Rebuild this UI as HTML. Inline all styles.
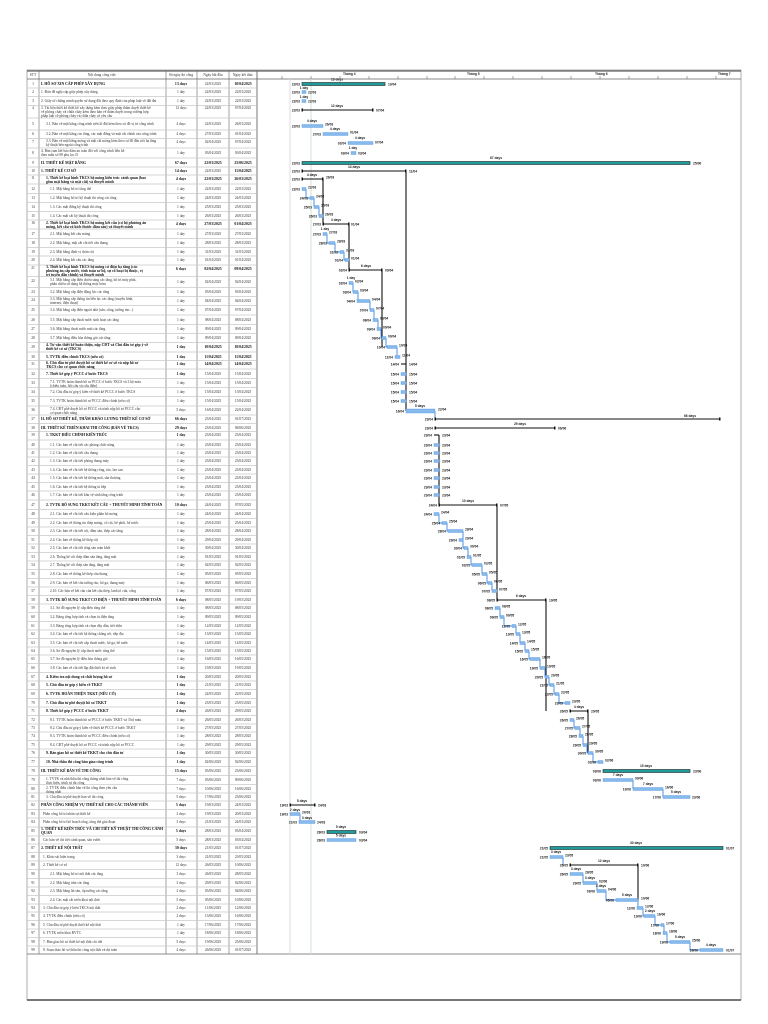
<!DOCTYPE html>
<html><head><meta charset="utf-8"><style>
html,body{margin:0;padding:0;background:#fff;}
svg{display:block;font-family:"Liberation Serif","Noto Serif CJK SC",serif;}
.t{font-size:3.6px;fill:#333}
.b{font-size:3.8px;fill:#111;font-weight:bold}
.c{text-anchor:middle}
.g{font-size:3.3px;fill:#222;font-family:"Liberation Sans",sans-serif;font-weight:bold}
.e{text-anchor:end}
</style></head><body>
<svg width="768" height="1024" viewBox="0 0 768 1024" xmlns="http://www.w3.org/2000/svg">
<!-- frame -->
<rect x="27" y="70" width="714" height="930" fill="none" stroke="#999" stroke-width="0.8"/>
<line x1="27" y1="1000" x2="741" y2="1000" stroke="#777" stroke-width="2"/>
<line x1="27" y1="71" x2="741" y2="71" stroke="#666" stroke-width="1.2"/>
<line x1="27" y1="79" x2="741" y2="79" stroke="#888" stroke-width="1"/>
<line x1="27" y1="954" x2="741" y2="954" stroke="#888" stroke-width="1"/>
<!-- columns -->
<g stroke="#666" stroke-width="0.6">
<line x1="39" y1="71" x2="39" y2="954"/><line x1="166" y1="71" x2="166" y2="954"/>
<line x1="197" y1="71" x2="197" y2="954"/><line x1="229" y1="71" x2="229" y2="954"/>
<line x1="257" y1="71" x2="257" y2="954" stroke-width="0.9"/>
</g>
<line x1="290" y1="79" x2="290" y2="954" stroke="#ddd" stroke-width="1"/>
<line x1="311" y1="79" x2="311" y2="954" stroke="#cfe3cf" stroke-width="1"/>
<!-- header -->
<text class="t c" x="33" y="76">STT</text>
<text class="t c" x="102" y="76">Nội dung công việc</text>
<text class="t c" x="181" y="76">Số ngày thi công</text>
<text class="t c" x="213" y="76">Ngày bắt đầu</text>
<text class="t c" x="243" y="76">Ngày kết thúc</text>
<g stroke="#555" stroke-width="0.5">
<line x1="282" y1="76" x2="282" y2="79"/><line x1="311" y1="76" x2="311" y2="79"/><line x1="340" y1="76" x2="340" y2="79"/><line x1="369" y1="76" x2="369" y2="79"/><line x1="398" y1="76" x2="398" y2="79"/><line x1="427" y1="76" x2="427" y2="79"/><line x1="455" y1="76" x2="455" y2="79"/><line x1="484" y1="76" x2="484" y2="79"/><line x1="513" y1="76" x2="513" y2="79"/><line x1="542" y1="76" x2="542" y2="79"/><line x1="571" y1="76" x2="571" y2="79"/><line x1="600" y1="76" x2="600" y2="79"/><line x1="629" y1="76" x2="629" y2="79"/><line x1="658" y1="76" x2="658" y2="79"/><line x1="687" y1="76" x2="687" y2="79"/><line x1="716" y1="76" x2="716" y2="79"/>
</g>
<text class="g" x="343" y="75">Tháng 4</text><text class="g" x="467" y="75">Tháng 5</text><text class="g" x="595" y="75">Tháng 6</text><text class="g" x="718" y="75">Tháng 7</text>

<!-- row separators -->
<g stroke="#c8c8c8" stroke-width="0.7">
<line x1="27" y1="88" x2="257" y2="88"/><line x1="27" y1="96.5" x2="257" y2="96.5"/><line x1="27" y1="105.5" x2="257" y2="105.5"/><line x1="27" y1="118" x2="257" y2="118"/><line x1="27" y1="130" x2="257" y2="130"/><line x1="27" y1="138.5" x2="257" y2="138.5"/><line x1="27" y1="148" x2="257" y2="148"/><line x1="27" y1="158" x2="257" y2="158"/><line x1="27" y1="167" x2="257" y2="167"/><line x1="27" y1="175" x2="257" y2="175"/><line x1="27" y1="184" x2="257" y2="184"/><line x1="27" y1="193.5" x2="257" y2="193.5"/><line x1="27" y1="202.5" x2="257" y2="202.5"/><line x1="27" y1="211.5" x2="257" y2="211.5"/><line x1="27" y1="220" x2="257" y2="220"/><line x1="27" y1="229" x2="257" y2="229"/><line x1="27" y1="238.5" x2="257" y2="238.5"/><line x1="27" y1="247.5" x2="257" y2="247.5"/><line x1="27" y1="256" x2="257" y2="256"/><line x1="27" y1="265" x2="257" y2="265"/><line x1="27" y1="276.5" x2="257" y2="276.5"/><line x1="27" y1="287.5" x2="257" y2="287.5"/><line x1="27" y1="296.5" x2="257" y2="296.5"/><line x1="27" y1="305.5" x2="257" y2="305.5"/><line x1="27" y1="315" x2="257" y2="315"/><line x1="27" y1="324.5" x2="257" y2="324.5"/><line x1="27" y1="333.5" x2="257" y2="333.5"/><line x1="27" y1="342.5" x2="257" y2="342.5"/><line x1="27" y1="352" x2="257" y2="352"/><line x1="27" y1="360.5" x2="257" y2="360.5"/><line x1="27" y1="369" x2="257" y2="369"/><line x1="27" y1="378.5" x2="257" y2="378.5"/><line x1="27" y1="387.5" x2="257" y2="387.5"/><line x1="27" y1="396.5" x2="257" y2="396.5"/><line x1="27" y1="406" x2="257" y2="406"/><line x1="27" y1="415" x2="257" y2="415"/><line x1="27" y1="423.5" x2="257" y2="423.5"/><line x1="27" y1="431.5" x2="257" y2="431.5"/><line x1="27" y1="440" x2="257" y2="440"/><line x1="27" y1="449" x2="257" y2="449"/><line x1="27" y1="457" x2="257" y2="457"/><line x1="27" y1="465.5" x2="257" y2="465.5"/><line x1="27" y1="474" x2="257" y2="474"/><line x1="27" y1="482.5" x2="257" y2="482.5"/><line x1="27" y1="491" x2="257" y2="491"/><line x1="27" y1="500" x2="257" y2="500"/><line x1="27" y1="509.5" x2="257" y2="509.5"/><line x1="27" y1="518.5" x2="257" y2="518.5"/><line x1="27" y1="527" x2="257" y2="527"/><line x1="27" y1="535.5" x2="257" y2="535.5"/><line x1="27" y1="544" x2="257" y2="544"/><line x1="27" y1="552.5" x2="257" y2="552.5"/><line x1="27" y1="561" x2="257" y2="561"/><line x1="27" y1="569.5" x2="257" y2="569.5"/><line x1="27" y1="578.5" x2="257" y2="578.5"/><line x1="27" y1="587" x2="257" y2="587"/><line x1="27" y1="595.5" x2="257" y2="595.5"/><line x1="27" y1="604" x2="257" y2="604"/><line x1="27" y1="612.5" x2="257" y2="612.5"/><line x1="27" y1="621.5" x2="257" y2="621.5"/><line x1="27" y1="630" x2="257" y2="630"/><line x1="27" y1="638.5" x2="257" y2="638.5"/><line x1="27" y1="647" x2="257" y2="647"/><line x1="27" y1="655" x2="257" y2="655"/><line x1="27" y1="663.5" x2="257" y2="663.5"/><line x1="27" y1="672.5" x2="257" y2="672.5"/><line x1="27" y1="681" x2="257" y2="681"/><line x1="27" y1="689.5" x2="257" y2="689.5"/><line x1="27" y1="698.5" x2="257" y2="698.5"/><line x1="27" y1="707" x2="257" y2="707"/><line x1="27" y1="715.5" x2="257" y2="715.5"/><line x1="27" y1="724" x2="257" y2="724"/><line x1="27" y1="732" x2="257" y2="732"/><line x1="27" y1="740.5" x2="257" y2="740.5"/><line x1="27" y1="749" x2="257" y2="749"/><line x1="27" y1="757.5" x2="257" y2="757.5"/><line x1="27" y1="766.5" x2="257" y2="766.5"/><line x1="27" y1="775.5" x2="257" y2="775.5"/><line x1="27" y1="784.5" x2="257" y2="784.5"/><line x1="27" y1="793" x2="257" y2="793"/><line x1="27" y1="801" x2="257" y2="801"/><line x1="27" y1="809.5" x2="257" y2="809.5"/><line x1="27" y1="818" x2="257" y2="818"/><line x1="27" y1="827" x2="257" y2="827"/><line x1="27" y1="836" x2="257" y2="836"/><line x1="27" y1="844" x2="257" y2="844"/><line x1="27" y1="852.5" x2="257" y2="852.5"/><line x1="27" y1="861" x2="257" y2="861"/><line x1="27" y1="869.5" x2="257" y2="869.5"/><line x1="27" y1="878.5" x2="257" y2="878.5"/><line x1="27" y1="887" x2="257" y2="887"/><line x1="27" y1="895.5" x2="257" y2="895.5"/><line x1="27" y1="904" x2="257" y2="904"/><line x1="27" y1="912" x2="257" y2="912"/><line x1="27" y1="920.5" x2="257" y2="920.5"/><line x1="27" y1="929" x2="257" y2="929"/><line x1="27" y1="937.5" x2="257" y2="937.5"/><line x1="27" y1="946" x2="257" y2="946"/>
</g>

<!-- table text -->
<g>
<text class="t c" x="33" y="85">1</text><text class="b" x="41" y="85">I. HỒ SƠ XIN CẤP PHÉP XÂY DỰNG</text><text class="b c" x="181" y="85">13 days</text><text class="t c" x="213" y="85">22/03/2025</text><text class="b c" x="243" y="85">10/04/2025</text>
<text class="t c" x="33" y="93">2</text><text class="t" x="41" y="93">1. Đơn đề nghị cấp giấy phép xây dựng</text><text class="t c" x="181" y="93">1 day</text><text class="t c" x="213" y="93">22/03/2025</text><text class="t c" x="243" y="93">22/03/2025</text>
<text class="t c" x="33" y="102">3</text><text class="t" x="41" y="102">2. Giấy tờ chứng minh quyền sử dụng đất theo quy định của pháp luật về đất đai</text><text class="t c" x="181" y="102">1 day</text><text class="t c" x="213" y="102">22/03/2025</text><text class="t c" x="243" y="102">22/03/2025</text>
<text class="t c" x="33" y="109">4</text><text class="t" x="41" y="109">3. Tài liệu thiết kế thiết kế xây dựng kèm theo giấy phép thẩm duyệt thiết kế</text><text class="t" x="41" y="113">về phòng cháy và chữa cháy kèm theo bản vẽ thẩm duyệt trong trường hợp</text><text class="t" x="41" y="117">pháp luật về phòng cháy và chữa cháy có yêu cầu</text><text class="t c" x="181" y="109">12 days</text><text class="t c" x="213" y="109">22/03/2025</text><text class="t c" x="243" y="109">07/04/2025</text>
<text class="t c" x="33" y="125">5</text><text class="t" x="46" y="125">3.1. Bản vẽ mặt bằng công trình trên lô đất kèm theo sơ đồ vị trí công trình</text><text class="t c" x="181" y="125">4 days</text><text class="t c" x="213" y="125">22/03/2025</text><text class="t c" x="243" y="125">26/03/2025</text>
<text class="t c" x="33" y="135">6</text><text class="t" x="46" y="135">3.2. Bản vẽ mặt bằng các tầng, các mặt đứng và mặt cắt chính của công trình</text><text class="t c" x="181" y="135">4 days</text><text class="t c" x="213" y="135">27/03/2025</text><text class="t c" x="243" y="135">01/04/2025</text>
<text class="t c" x="33" y="143">7</text><text class="t" x="46" y="142">3.3. Bản vẽ mặt bằng móng và mặt cắt móng kèm theo sơ đồ đấu nối hạ tầng</text><text class="t" x="46" y="146">kỹ thuật bên ngoài công trình</text><text class="t c" x="181" y="143">4 days</text><text class="t c" x="213" y="143">02/04/2025</text><text class="t c" x="243" y="143">07/04/2025</text>
<text class="t c" x="33" y="154">8</text><text class="t" x="41" y="152">4. Bản cam kết bảo đảm an toàn đối với công trình liền kề</text><text class="t" x="41" y="156">theo mẫu số 08 phụ lục II</text><text class="t c" x="181" y="154">1 day</text><text class="t c" x="213" y="154">03/04/2025</text><text class="t c" x="243" y="154">03/04/2025</text>
<text class="t c" x="33" y="164">9</text><text class="b" x="41" y="164">II. THIẾT KẾ MẶT BẰNG</text><text class="b c" x="181" y="164">67 days</text><text class="b c" x="213" y="164">22/03/2025</text><text class="b c" x="243" y="164">25/06/2025</text>
<text class="t c" x="33" y="172">10</text><text class="b" x="41" y="172">1. THIẾT KẾ CƠ SỞ</text><text class="b c" x="181" y="172">14 days</text><text class="t c" x="213" y="172">22/03/2025</text><text class="b c" x="243" y="172">11/04/2025</text>
<text class="t c" x="33" y="179">11</text><text class="b" x="46" y="179">1. Thiết kế loại hình TKCS hệ móng kiến trúc cảnh quan (bao</text><text class="b" x="46" y="183">gồm mặt bằng và mặt cắt) và thuyết minh</text><text class="b c" x="181" y="180">4 days</text><text class="b c" x="213" y="180">22/03/2025</text><text class="b c" x="243" y="180">26/03/2025</text>
<text class="t c" x="33" y="190">12</text><text class="t" x="50" y="190">1.1. Mặt bằng bố trí tổng thể</text><text class="t c" x="181" y="190">1 day</text><text class="t c" x="213" y="190">22/03/2025</text><text class="t c" x="243" y="190">22/03/2025</text>
<text class="t c" x="33" y="199">13</text><text class="t" x="50" y="199">1.2. Mặt bằng bố trí kỹ thuật thi công các tầng</text><text class="t c" x="181" y="199">1 day</text><text class="t c" x="213" y="199">24/03/2025</text><text class="t c" x="243" y="199">24/03/2025</text>
<text class="t c" x="33" y="208">14</text><text class="t" x="50" y="208">1.3. Các mặt đứng kỹ thuật thi công</text><text class="t c" x="181" y="208">1 day</text><text class="t c" x="213" y="208">25/03/2025</text><text class="t c" x="243" y="208">25/03/2025</text>
<text class="t c" x="33" y="217">15</text><text class="t" x="50" y="217">1.4. Các mặt cắt kỹ thuật thi công</text><text class="t c" x="181" y="217">1 day</text><text class="t c" x="213" y="217">26/03/2025</text><text class="t c" x="243" y="217">26/03/2025</text>
<text class="t c" x="33" y="224">16</text><text class="b" x="46" y="224">2. Thiết kế loại hình TKCS hệ móng kết cấu (cơ hệ phương án</text><text class="b" x="46" y="228">móng, kết cấu và kích thước dầm sàn) và thuyết minh</text><text class="b c" x="181" y="225">4 days</text><text class="b c" x="213" y="225">27/03/2025</text><text class="b c" x="243" y="225">01/04/2025</text>
<text class="t c" x="33" y="235">17</text><text class="t" x="50" y="235">2.1. Mặt bằng kết cấu móng</text><text class="t c" x="181" y="235">1 day</text><text class="t c" x="213" y="235">27/03/2025</text><text class="t c" x="243" y="235">27/03/2025</text>
<text class="t c" x="33" y="244">18</text><text class="t" x="50" y="244">2.2. Mặt bằng, mặt cắt chi tiết cầu thang</text><text class="t c" x="181" y="244">1 day</text><text class="t c" x="213" y="244">28/03/2025</text><text class="t c" x="243" y="244">28/03/2025</text>
<text class="t c" x="33" y="253">19</text><text class="t" x="50" y="253">2.3. Mặt bằng định vị chân cột</text><text class="t c" x="181" y="253">1 day</text><text class="t c" x="213" y="253">31/03/2025</text><text class="t c" x="243" y="253">31/03/2025</text>
<text class="t c" x="33" y="261">20</text><text class="t" x="50" y="261">2.4. Mặt bằng kết cấu các tầng</text><text class="t c" x="181" y="261">1 day</text><text class="t c" x="213" y="261">01/04/2025</text><text class="t c" x="243" y="261">01/04/2025</text>
<text class="t c" x="33" y="269">21</text><text class="b" x="46" y="268">3. Thiết kế loại hình TKCS hệ móng cơ điện hạ tầng (các</text><text class="b" x="46" y="272">phương án cấp nước, tính toán sơ bộ, sự cố hoạt bị thuộc, vị</text><text class="b" x="46" y="276">trí tuyến dẫn chính) và thuyết minh</text><text class="b c" x="181" y="270">6 days</text><text class="b c" x="213" y="270">02/04/2025</text><text class="b c" x="243" y="270">09/04/2025</text>
<text class="t c" x="33" y="282">22</text><text class="t" x="50" y="281">3.1. Mặt bằng cấp điện chiếu sáng các tầng, bố trí máy phát,</text><text class="t" x="50" y="285">phân chiều sử dụng hệ thống máy bơm</text><text class="t c" x="181" y="283">1 day</text><text class="t c" x="213" y="283">02/04/2025</text><text class="t c" x="243" y="283">02/04/2025</text>
<text class="t c" x="33" y="293">23</text><text class="t" x="50" y="293">3.2. Mặt bằng cấp điện động lực các tầng</text><text class="t c" x="181" y="293">1 day</text><text class="t c" x="213" y="293">03/04/2025</text><text class="t c" x="243" y="293">03/04/2025</text>
<text class="t c" x="33" y="301">24</text><text class="t" x="50" y="300">3.3. Mặt bằng cấp thông tin liên lạc các tầng (truyền hình,</text><text class="t" x="50" y="304">internet, điện thoại)</text><text class="t c" x="181" y="302">1 day</text><text class="t c" x="213" y="302">04/04/2025</text><text class="t c" x="243" y="302">04/04/2025</text>
<text class="t c" x="33" y="311">25</text><text class="t" x="50" y="311">3.4. Mặt bằng cấp điện ngoài nhà (sân, cổng, tường rào...)</text><text class="t c" x="181" y="311">1 day</text><text class="t c" x="213" y="311">07/04/2025</text><text class="t c" x="243" y="311">07/04/2025</text>
<text class="t c" x="33" y="321">26</text><text class="t" x="50" y="321">3.5. Mặt bằng cấp thoát nước sinh hoạt các tầng</text><text class="t c" x="181" y="321">1 day</text><text class="t c" x="213" y="321">08/04/2025</text><text class="t c" x="243" y="321">08/04/2025</text>
<text class="t c" x="33" y="330">27</text><text class="t" x="50" y="330">3.6. Mặt bằng thoát nước mái các tầng</text><text class="t c" x="181" y="330">1 day</text><text class="t c" x="213" y="330">09/04/2025</text><text class="t c" x="243" y="330">09/04/2025</text>
<text class="t c" x="33" y="339">28</text><text class="t" x="50" y="339">3.7. Mặt bằng điều hòa thông gió các tầng</text><text class="t c" x="181" y="339">1 day</text><text class="t c" x="213" y="339">09/04/2025</text><text class="t c" x="243" y="339">09/04/2025</text>
<text class="t c" x="33" y="348">29</text><text class="b" x="46" y="346">4. Tư vấn thiết kế hoàn thiện, nộp CĐT và Chủ đầu tư góp ý về</text><text class="b" x="46" y="350">thiết kế cơ sở (TKCS)</text><text class="b c" x="181" y="348">1 day</text><text class="b c" x="213" y="348">10/04/2025</text><text class="b c" x="243" y="348">10/04/2025</text>
<text class="t c" x="33" y="358">30</text><text class="b" x="46" y="358">5. TVTK điều chỉnh TKCS (nếu có)</text><text class="b c" x="181" y="358">1 day</text><text class="b c" x="213" y="358">11/04/2025</text><text class="b c" x="243" y="358">11/04/2025</text>
<text class="t c" x="33" y="365">31</text><text class="b" x="46" y="364">6. Chủ đầu tư phê duyệt hồ sơ thiết kế cơ sở và nộp hồ sơ</text><text class="b" x="46" y="368">TKCS cho cơ quan chức năng</text><text class="b c" x="181" y="365">1 day</text><text class="b c" x="213" y="365">14/04/2025</text><text class="b c" x="243" y="365">14/04/2025</text>
<text class="t c" x="33" y="375">32</text><text class="b" x="46" y="375">7. Thiết kế góp ý PCCC ở bước TKCS</text><text class="b c" x="181" y="375">1 day</text><text class="t c" x="213" y="375">15/04/2025</text><text class="t c" x="243" y="375">15/04/2025</text>
<text class="t c" x="33" y="384">33</text><text class="t" x="50" y="383">7.1. TVTK hoàn thành hồ sơ PCCC ở bước TKCS và 3 bộ màu</text><text class="t" x="50" y="387">(chiều toàn, hồi cấu và cứu điện)</text><text class="t c" x="181" y="384">1 day</text><text class="t c" x="213" y="384">15/04/2025</text><text class="t c" x="243" y="384">15/04/2025</text>
<text class="t c" x="33" y="393">34</text><text class="t" x="50" y="393">7.2. Chủ đầu tư góp ý kiến về thiết kế PCCC ở bước TKCS</text><text class="t c" x="181" y="393">1 day</text><text class="t c" x="213" y="393">15/04/2025</text><text class="t c" x="243" y="393">15/04/2025</text>
<text class="t c" x="33" y="402">35</text><text class="t" x="50" y="402">7.3. TVTK hoàn thành hồ sơ PCCC điều chỉnh (nếu có)</text><text class="t c" x="181" y="402">1 day</text><text class="t c" x="213" y="402">15/04/2025</text><text class="t c" x="243" y="402">15/04/2025</text>
<text class="t c" x="33" y="411">36</text><text class="t" x="50" y="410">7.4. CĐT phê duyệt hồ sơ PCCC và trình nộp hồ sơ PCCC cho</text><text class="t" x="50" y="414">cơ quan chức năng</text><text class="t c" x="181" y="411">5 days</text><text class="t c" x="213" y="411">16/04/2025</text><text class="t c" x="243" y="411">22/04/2025</text>
<text class="t c" x="33" y="420">37</text><text class="b" x="41" y="420">II. HỒ SƠ THIẾT KẾ, THẨM KHẢO LƯƠNG THIẾT KẾ CƠ SỞ</text><text class="b c" x="181" y="420">66 days</text><text class="t c" x="213" y="420">23/04/2025</text><text class="t c" x="243" y="420">01/07/2025</text>
<text class="t c" x="33" y="429">38</text><text class="b" x="41" y="429">III. THIẾT KẾ TRIỂN KHAI THI CÔNG (BẢN VẼ TKCS)</text><text class="b c" x="181" y="429">29 days</text><text class="t c" x="213" y="429">23/04/2025</text><text class="t c" x="243" y="429">06/06/2025</text>
<text class="t c" x="33" y="436">39</text><text class="b" x="46" y="436">1. TKKT ĐIỀU CHỈNH KIẾN TRÚC</text><text class="b c" x="181" y="436">1 day</text><text class="t c" x="213" y="436">23/04/2025</text><text class="t c" x="243" y="436">23/04/2025</text>
<text class="t c" x="33" y="446">40</text><text class="t" x="50" y="446">1.1. Các bản vẽ chi tiết các phòng chức năng</text><text class="t c" x="181" y="446">1 day</text><text class="t c" x="213" y="446">23/04/2025</text><text class="t c" x="243" y="446">23/04/2025</text>
<text class="t c" x="33" y="454">41</text><text class="t" x="50" y="454">1.2. Các bản vẽ chi tiết cầu thang</text><text class="t c" x="181" y="454">1 day</text><text class="t c" x="213" y="454">23/04/2025</text><text class="t c" x="243" y="454">23/04/2025</text>
<text class="t c" x="33" y="462">42</text><text class="t" x="50" y="462">1.3. Các bản vẽ chi tiết phòng thang máy</text><text class="t c" x="181" y="462">1 day</text><text class="t c" x="213" y="462">23/04/2025</text><text class="t c" x="243" y="462">23/04/2025</text>
<text class="t c" x="33" y="471">43</text><text class="t" x="50" y="471">1.4. Các bản vẽ chi tiết hệ thống cổng, rào, lan can</text><text class="t c" x="181" y="471">1 day</text><text class="t c" x="213" y="471">23/04/2025</text><text class="t c" x="243" y="471">23/04/2025</text>
<text class="t c" x="33" y="479">44</text><text class="t" x="50" y="479">1.5. Các bản vẽ chi tiết hệ thống mái, sân thượng</text><text class="t c" x="181" y="479">1 day</text><text class="t c" x="213" y="479">23/04/2025</text><text class="t c" x="243" y="479">23/04/2025</text>
<text class="t c" x="33" y="488">45</text><text class="t" x="50" y="488">1.6. Các bản vẽ chi tiết hệ thống tủ bếp</text><text class="t c" x="181" y="488">1 day</text><text class="t c" x="213" y="488">23/04/2025</text><text class="t c" x="243" y="488">23/04/2025</text>
<text class="t c" x="33" y="496">46</text><text class="t" x="50" y="496">1.7. Các bản vẽ chi tiết khu vệ sinh tầng công trình</text><text class="t c" x="181" y="496">1 day</text><text class="t c" x="213" y="496">23/04/2025</text><text class="t c" x="243" y="496">23/04/2025</text>
<text class="t c" x="33" y="506">47</text><text class="b" x="46" y="506">2. TVTK BỔ SUNG TKKT KẾT CẤU + THUYẾT MINH TÍNH TOÁN</text><text class="b c" x="181" y="506">10 days</text><text class="t c" x="213" y="506">24/04/2025</text><text class="t c" x="243" y="506">07/05/2025</text>
<text class="t c" x="33" y="515">48</text><text class="t" x="50" y="515">2.1. Các bản vẽ chi tiết cấu kiện phần hố móng</text><text class="t c" x="181" y="515">1 day</text><text class="t c" x="213" y="515">24/04/2025</text><text class="t c" x="243" y="515">24/04/2025</text>
<text class="t c" x="33" y="524">49</text><text class="t" x="50" y="524">2.2. Các bản vẽ thông tin thép móng, cổ cột, bể phốt, bể nước</text><text class="t c" x="181" y="524">1 day</text><text class="t c" x="213" y="524">25/04/2025</text><text class="t c" x="243" y="524">25/04/2025</text>
<text class="t c" x="33" y="532">50</text><text class="t" x="50" y="532">2.3. Các bản vẽ chi tiết cột, dầm sàn, thép các tầng</text><text class="t c" x="181" y="532">1 day</text><text class="t c" x="213" y="532">28/04/2025</text><text class="t c" x="243" y="532">28/04/2025</text>
<text class="t c" x="33" y="541">51</text><text class="t" x="50" y="541">2.4. Các bản vẽ thống kê thép cột</text><text class="t c" x="181" y="541">1 day</text><text class="t c" x="213" y="541">29/04/2025</text><text class="t c" x="243" y="541">29/04/2025</text>
<text class="t c" x="33" y="549">52</text><text class="t" x="50" y="549">2.5. Các bản vẽ chi tiết tổng sàn toàn khối</text><text class="t c" x="181" y="549">1 day</text><text class="t c" x="213" y="549">30/04/2025</text><text class="t c" x="243" y="549">30/04/2025</text>
<text class="t c" x="33" y="558">53</text><text class="t" x="50" y="558">2.6. Thống kê cốt thép dầm sàn tầng, tầng mái</text><text class="t c" x="181" y="558">1 day</text><text class="t c" x="213" y="558">01/05/2025</text><text class="t c" x="243" y="558">01/05/2025</text>
<text class="t c" x="33" y="566">54</text><text class="t" x="50" y="566">2.7. Thống kê cốt thép sàn tầng, tầng mái</text><text class="t c" x="181" y="566">1 day</text><text class="t c" x="213" y="566">02/05/2025</text><text class="t c" x="243" y="566">02/05/2025</text>
<text class="t c" x="33" y="575">55</text><text class="t" x="50" y="575">2.8. Các bản vẽ thống kê thép cầu thang</text><text class="t c" x="181" y="575">1 day</text><text class="t c" x="213" y="575">05/05/2025</text><text class="t c" x="243" y="575">05/05/2025</text>
<text class="t c" x="33" y="584">56</text><text class="t" x="50" y="584">2.9. Các bản vẽ kết cấu tường rào, hố ga, thang máy</text><text class="t c" x="181" y="584">1 day</text><text class="t c" x="213" y="584">06/05/2025</text><text class="t c" x="243" y="584">06/05/2025</text>
<text class="t c" x="33" y="592">57</text><text class="t" x="50" y="592">2.10. Các bản vẽ kết cấu cửa kết cấu thép, lanh tô cửa, cổng</text><text class="t c" x="181" y="592">1 day</text><text class="t c" x="213" y="592">07/05/2025</text><text class="t c" x="243" y="592">07/05/2025</text>
<text class="t c" x="33" y="601">58</text><text class="b" x="46" y="601">3. TVTK BỔ SUNG TKKT CƠ ĐIỆN + THUYẾT MINH TÍNH TOÁN</text><text class="b c" x="181" y="601">6 days</text><text class="t c" x="213" y="601">08/05/2025</text><text class="t c" x="243" y="601">19/05/2025</text>
<text class="t c" x="33" y="609">59</text><text class="t" x="50" y="609">3.1. Sơ đồ nguyên lý cấp điện tổng thể</text><text class="t c" x="181" y="609">1 day</text><text class="t c" x="213" y="609">08/05/2025</text><text class="t c" x="243" y="609">08/05/2025</text>
<text class="t c" x="33" y="618">60</text><text class="t" x="50" y="618">3.2. Bảng tổng hợp tính và chọn tủ điện tầng</text><text class="t c" x="181" y="618">1 day</text><text class="t c" x="213" y="618">09/05/2025</text><text class="t c" x="243" y="618">09/05/2025</text>
<text class="t c" x="33" y="627">61</text><text class="t" x="50" y="627">3.3. Bảng tổng hợp tính và chọn dây dẫn, tiết diện</text><text class="t c" x="181" y="627">1 day</text><text class="t c" x="213" y="627">12/05/2025</text><text class="t c" x="243" y="627">12/05/2025</text>
<text class="t c" x="33" y="635">62</text><text class="t" x="50" y="635">3.4. Các bản vẽ chi tiết hệ thống chống sét, tiếp địa</text><text class="t c" x="181" y="635">1 day</text><text class="t c" x="213" y="635">13/05/2025</text><text class="t c" x="243" y="635">13/05/2025</text>
<text class="t c" x="33" y="644">63</text><text class="t" x="50" y="644">3.5. Các bản vẽ chi tiết cấp thoát nước, hố ga, bể nước</text><text class="t c" x="181" y="644">1 day</text><text class="t c" x="213" y="644">14/05/2025</text><text class="t c" x="243" y="644">14/05/2025</text>
<text class="t c" x="33" y="652">64</text><text class="t" x="50" y="652">3.6. Sơ đồ nguyên lý cấp thoát nước tổng thể</text><text class="t c" x="181" y="652">1 day</text><text class="t c" x="213" y="652">15/05/2025</text><text class="t c" x="243" y="652">15/05/2025</text>
<text class="t c" x="33" y="660">65</text><text class="t" x="50" y="660">3.7. Sơ đồ nguyên lý điều hòa thông gió</text><text class="t c" x="181" y="660">1 day</text><text class="t c" x="213" y="660">16/05/2025</text><text class="t c" x="243" y="660">16/05/2025</text>
<text class="t c" x="33" y="669">66</text><text class="t" x="50" y="669">3.8. Các bản vẽ chi tiết lắp đặt thiết bị vệ sinh</text><text class="t c" x="181" y="669">1 day</text><text class="t c" x="213" y="669">19/05/2025</text><text class="t c" x="243" y="669">19/05/2025</text>
<text class="t c" x="33" y="678">67</text><text class="b" x="46" y="678">4. Kiểm tra nội dung và chất lượng hồ sơ</text><text class="b c" x="181" y="678">1 day</text><text class="t c" x="213" y="678">20/05/2025</text><text class="t c" x="243" y="678">20/05/2025</text>
<text class="t c" x="33" y="686">68</text><text class="b" x="46" y="686">5. Chủ đầu tư góp ý kiến về TKKT</text><text class="b c" x="181" y="686">1 day</text><text class="t c" x="213" y="686">21/05/2025</text><text class="t c" x="243" y="686">21/05/2025</text>
<text class="t c" x="33" y="695">69</text><text class="b" x="46" y="695">6. TVTK HOÀN THIỆN TKKT (NẾU CÓ)</text><text class="b c" x="181" y="695">1 day</text><text class="t c" x="213" y="695">22/05/2025</text><text class="t c" x="243" y="695">22/05/2025</text>
<text class="t c" x="33" y="704">70</text><text class="b" x="46" y="704">7. Chủ đầu tư phê duyệt hồ sơ TKKT</text><text class="b c" x="181" y="704">1 day</text><text class="t c" x="213" y="704">23/05/2025</text><text class="t c" x="243" y="704">23/05/2025</text>
<text class="t c" x="33" y="712">71</text><text class="b" x="46" y="712">8. Thiết kế góp ý PCCC ở bước TKKT</text><text class="b c" x="181" y="712">4 days</text><text class="t c" x="213" y="712">26/05/2025</text><text class="t c" x="243" y="712">29/05/2025</text>
<text class="t c" x="33" y="721">72</text><text class="t" x="50" y="721">8.1. TVTK hoàn thành hồ sơ PCCC ở bước TKKT và 3 bộ màu</text><text class="t c" x="181" y="721">1 day</text><text class="t c" x="213" y="721">26/05/2025</text><text class="t c" x="243" y="721">26/05/2025</text>
<text class="t c" x="33" y="729">73</text><text class="t" x="50" y="729">8.2. Chủ đầu tư góp ý kiến về thiết kế PCCC ở bước TKKT</text><text class="t c" x="181" y="729">1 day</text><text class="t c" x="213" y="729">27/05/2025</text><text class="t c" x="243" y="729">27/05/2025</text>
<text class="t c" x="33" y="737">74</text><text class="t" x="50" y="737">8.3. TVTK hoàn thành hồ sơ PCCC điều chỉnh (nếu có)</text><text class="t c" x="181" y="737">1 day</text><text class="t c" x="213" y="737">28/05/2025</text><text class="t c" x="243" y="737">28/05/2025</text>
<text class="t c" x="33" y="746">75</text><text class="t" x="50" y="746">8.4. CĐT phê duyệt hồ sơ PCCC và trình nộp hồ sơ PCCC</text><text class="t c" x="181" y="746">1 day</text><text class="t c" x="213" y="746">29/05/2025</text><text class="t c" x="243" y="746">29/05/2025</text>
<text class="t c" x="33" y="754">76</text><text class="b" x="46" y="754">9. Bàn giao hồ sơ thiết kế TKKT cho chủ đầu tư</text><text class="b c" x="181" y="754">1 day</text><text class="t c" x="213" y="754">30/05/2025</text><text class="t c" x="243" y="754">30/05/2025</text>
<text class="t c" x="33" y="763">77</text><text class="b" x="46" y="763">10. Nhà thầu thi công bàn giao công trình</text><text class="b c" x="181" y="763">1 day</text><text class="t c" x="213" y="763">02/06/2025</text><text class="t c" x="243" y="763">02/06/2025</text>
<text class="t c" x="33" y="772">78</text><text class="b" x="41" y="772">III. THIẾT KẾ BẢN VẼ THI CÔNG</text><text class="b c" x="181" y="772">15 days</text><text class="t c" x="213" y="772">03/06/2025</text><text class="t c" x="243" y="772">23/06/2025</text>
<text class="t c" x="33" y="781">79</text><text class="t" x="46" y="780">1. TVTK và nhà thầu thi công thống nhất bản vẽ thi công</text><text class="t" x="46" y="784">thực hiện, trình tự thi công</text><text class="t c" x="181" y="781">7 days</text><text class="t c" x="213" y="781">03/06/2025</text><text class="t c" x="243" y="781">09/06/2025</text>
<text class="t c" x="33" y="790">80</text><text class="t" x="46" y="789">2. TVTK điều chỉnh bản vẽ thi công theo yêu cầu</text><text class="t" x="46" y="793">thống nhất</text><text class="t c" x="181" y="790">7 days</text><text class="t c" x="213" y="790">10/06/2025</text><text class="t c" x="243" y="790">16/06/2025</text>
<text class="t c" x="33" y="798">81</text><text class="t" x="46" y="798">3. Chủ đầu tư phê duyệt bản vẽ thi công</text><text class="t c" x="181" y="798">5 days</text><text class="t c" x="213" y="798">17/06/2025</text><text class="t c" x="243" y="798">23/06/2025</text>
<text class="t c" x="33" y="806">82</text><text class="b" x="41" y="806">PHÂN CÔNG NHIỆM VỤ THIẾT KẾ CHO CÁC THÀNH VIÊN</text><text class="b c" x="181" y="806">5 days</text><text class="t c" x="213" y="806">19/03/2025</text><text class="t c" x="243" y="806">24/03/2025</text>
<text class="t c" x="33" y="815">83</text><text class="t" x="43" y="815">Phân công bố trí nhân sự thiết kế</text><text class="t c" x="181" y="815">2 days</text><text class="t c" x="213" y="815">19/03/2025</text><text class="t c" x="243" y="815">20/03/2025</text>
<text class="t c" x="33" y="823">84</text><text class="t" x="43" y="823">Phân công bố trí kế hoạch tổng, tổng thể giai đoạn</text><text class="t c" x="181" y="823">3 days</text><text class="t c" x="213" y="823">21/03/2025</text><text class="t c" x="243" y="823">24/03/2025</text>
<text class="t c" x="33" y="832">85</text><text class="b" x="41" y="830">1. THIẾT KẾ KIẾN TRÚC VÀ CHI TIẾT KỸ THUẬT THI CÔNG CẢNH</text><text class="b" x="41" y="834">QUAN</text><text class="b c" x="181" y="832">5 days</text><text class="t c" x="213" y="832">28/03/2025</text><text class="t c" x="243" y="832">03/04/2025</text>
<text class="t c" x="33" y="841">86</text><text class="t" x="43" y="841">Các bản vẽ chi tiết cảnh quan, sân vườn</text><text class="t c" x="181" y="841">5 days</text><text class="t c" x="213" y="841">28/03/2025</text><text class="t c" x="243" y="841">03/04/2025</text>
<text class="t c" x="33" y="849">87</text><text class="b" x="41" y="849">2. THIẾT KẾ NỘI THẤT</text><text class="b c" x="181" y="849">30 days</text><text class="t c" x="213" y="849">21/05/2025</text><text class="t c" x="243" y="849">01/07/2025</text>
<text class="t c" x="33" y="858">88</text><text class="t" x="43" y="858">1. Khảo sát hiện trạng</text><text class="t c" x="181" y="858">3 days</text><text class="t c" x="213" y="858">21/05/2025</text><text class="t c" x="243" y="858">23/05/2025</text>
<text class="t c" x="33" y="866">89</text><text class="t" x="43" y="866">2. Thiết kế cơ sở</text><text class="t c" x="181" y="866">12 days</text><text class="t c" x="213" y="866">26/05/2025</text><text class="t c" x="243" y="866">10/06/2025</text>
<text class="t c" x="33" y="875">90</text><text class="t" x="50" y="875">2.1. Mặt bằng bố trí nội thất các tầng</text><text class="t c" x="181" y="875">3 days</text><text class="t c" x="213" y="875">26/05/2025</text><text class="t c" x="243" y="875">28/05/2025</text>
<text class="t c" x="33" y="884">91</text><text class="t" x="50" y="884">2.2. Mặt bằng trần các tầng</text><text class="t c" x="181" y="884">3 days</text><text class="t c" x="213" y="884">29/05/2025</text><text class="t c" x="243" y="884">02/06/2025</text>
<text class="t c" x="33" y="892">92</text><text class="t" x="50" y="892">2.3. Mặt bằng lát sàn, ốp tường các tầng</text><text class="t c" x="181" y="892">2 days</text><text class="t c" x="213" y="892">03/06/2025</text><text class="t c" x="243" y="892">04/06/2025</text>
<text class="t c" x="33" y="901">93</text><text class="t" x="50" y="901">2.4. Các mặt cắt triển khai nội thất</text><text class="t c" x="181" y="901">5 days</text><text class="t c" x="213" y="901">05/06/2025</text><text class="t c" x="243" y="901">10/06/2025</text>
<text class="t c" x="33" y="909">94</text><text class="t" x="43" y="909">3. Chủ đầu tư góp ý kiến TKCS nội thất</text><text class="t c" x="181" y="909">2 days</text><text class="t c" x="213" y="909">11/06/2025</text><text class="t c" x="243" y="909">12/06/2025</text>
<text class="t c" x="33" y="917">95</text><text class="t" x="43" y="917">4. TVTK điều chỉnh (nếu có)</text><text class="t c" x="181" y="917">2 days</text><text class="t c" x="213" y="917">13/06/2025</text><text class="t c" x="243" y="917">16/06/2025</text>
<text class="t c" x="33" y="926">96</text><text class="t" x="43" y="926">5. Chủ đầu tư phê duyệt thiết kế nội thất</text><text class="t c" x="181" y="926">1 day</text><text class="t c" x="213" y="926">17/06/2025</text><text class="t c" x="243" y="926">17/06/2025</text>
<text class="t c" x="33" y="934">97</text><text class="t" x="43" y="934">6. TVTK triển khai BVTC</text><text class="t c" x="181" y="934">1 day</text><text class="t c" x="213" y="934">18/06/2025</text><text class="t c" x="243" y="934">18/06/2025</text>
<text class="t c" x="33" y="943">98</text><text class="t" x="43" y="943">7. Bàn giao hồ sơ thiết kế nội thất chi tiết</text><text class="t c" x="181" y="943">5 days</text><text class="t c" x="213" y="943">19/06/2025</text><text class="t c" x="243" y="943">25/06/2025</text>
<text class="t c" x="33" y="951">99</text><text class="t" x="43" y="951">8. Soạn thảo hồ sơ thầu thi công nội thất và dự toán</text><text class="t c" x="181" y="951">4 days</text><text class="t c" x="213" y="951">26/06/2025</text><text class="t c" x="243" y="951">01/07/2025</text>
</g>

<!-- summary connectors -->
<g stroke="#111" stroke-width="1.1" fill="none">
<line x1="323" y1="179" x2="323" y2="224"/>
<line x1="349" y1="224" x2="349" y2="270"/>
<line x1="382" y1="270" x2="382" y2="347"/>
<line x1="406" y1="171" x2="406" y2="411"/>
<line x1="439" y1="435" x2="439" y2="505"/>
<line x1="497" y1="505" x2="497" y2="600"/>
<line x1="546" y1="600" x2="546" y2="711"/>
<line x1="588" y1="711" x2="588" y2="753"/>
<line x1="638" y1="865" x2="638" y2="900"/>
<line x1="406" y1="411" x2="406" y2="411"/>
</g>
<!-- blue connectors -->
<g stroke="#3a86e0" stroke-width="0.9" fill="none">
<path d="M306 189V198H310M314 198V207M319 207V216"/>
<path d="M327 234V243H329M335 243V252H340M344 252V260H345"/>
<path d="M353 283V292M358 292V301H357M370 301V310M374 310V320H373M378 320V329H377M381 329V338H382M386 338V347H387M397 347V357H395"/>
<path d="M439 514V523H442M447 523V531H448M463 531V540H459M463 540V548H464M468 548V557H467M471 557V565H472M482 565V574M487 574V583H488M492 583V591"/>
<path d="M500 608V617M504 617V626H512M516 626V634M520 634V643M525 643V651M529 651V659H530M540 659V668M545 668V677M549 677V685H550M554 685V694H555M559 694V703H565"/>
<path d="M574 720V728H575M580 728V736H579M583 736V745M587 745V753H588M593 753V762H598"/>
<path d="M633 780V789M663 789V797"/>
<path d="M300 814V822H299"/>
<path d="M563 857V865"/>
<path d="M583 874V883M597 883V891M606 891V900H616M638 900V908H637M643 908V916H644M655 916V925H661M664 925V933H663M667 933V942H670M690 942V950H700"/>
<path d="M435 411V419"/>
</g>

<!-- bars -->
<g id="bars">
<!-- teal summaries -->
<g fill="#1f9c9c" stroke="#222" stroke-width="0.6">
<rect x="302" y="82.5" width="83" height="3"/>
<rect x="302" y="161.5" width="388" height="3"/>
<rect x="603" y="769.5" width="87" height="3"/>
<rect x="327" y="830.5" width="29" height="3"/>
<rect x="550" y="846.5" width="173" height="3"/>
</g>
<!-- black summaries -->
<g stroke="#111" stroke-width="1.1">
<line x1="302" y1="110" x2="373" y2="110"/>
<line x1="302" y1="171" x2="406" y2="171"/>
<line x1="302" y1="179" x2="323" y2="179"/>
<line x1="323" y1="224" x2="349" y2="224"/>
<line x1="349" y1="270" x2="382" y2="270"/>
<line x1="401" y1="364" x2="406" y2="364"/>
<line x1="435" y1="419" x2="720" y2="419"/>
<line x1="435" y1="428" x2="555" y2="428"/>
<line x1="434" y1="435" x2="439" y2="435"/>
<line x1="439" y1="505" x2="497" y2="505"/>
<line x1="497" y1="600" x2="546" y2="600"/>
<line x1="570" y1="711" x2="588" y2="711"/>
<line x1="290" y1="805" x2="315" y2="805"/>
<line x1="570" y1="865" x2="638" y2="865"/>
</g>
<g fill="#111">
<rect x="301.5" y="108.5" width="1.5" height="3"/><rect x="372" y="108.5" width="1.5" height="3"/>
<rect x="301.5" y="169.5" width="1.5" height="3"/><rect x="405" y="169.5" width="1.5" height="3"/>
<rect x="301.5" y="177.5" width="1.5" height="3"/><rect x="322" y="177.5" width="1.5" height="3"/>
<rect x="322.5" y="222.5" width="1.5" height="3"/><rect x="348" y="222.5" width="1.5" height="3"/>
<rect x="348.5" y="268.5" width="1.5" height="3"/><rect x="381" y="268.5" width="1.5" height="3"/>
<rect x="434.5" y="417.5" width="1.5" height="3"/><rect x="719" y="417.5" width="1.5" height="3"/>
<rect x="434.5" y="426.5" width="1.5" height="3"/><rect x="554" y="426.5" width="1.5" height="3"/>
<rect x="438.5" y="503.5" width="1.5" height="3"/><rect x="496" y="503.5" width="1.5" height="3"/>
<rect x="496.5" y="598.5" width="1.5" height="3"/><rect x="545" y="598.5" width="1.5" height="3"/>
<rect x="569.5" y="709.5" width="1.5" height="3"/><rect x="587" y="709.5" width="1.5" height="3"/>
<rect x="289.5" y="803.5" width="1.5" height="3"/><rect x="314" y="803.5" width="1.5" height="3"/>
<rect x="569.5" y="863.5" width="1.5" height="3"/><rect x="637" y="863.5" width="1.5" height="3"/>
</g>
<!-- blue tasks -->
<g fill="#86b9ec" stroke="#5b9be0" stroke-width="0.4">
<rect x="302" y="90.5" width="4" height="3"/><rect x="302" y="99.5" width="4" height="3"/>
<rect x="302" y="124.5" width="21" height="3"/><rect x="323" y="132.5" width="25" height="3"/><rect x="348" y="141.5" width="25" height="3"/><rect x="351" y="151.5" width="5" height="3"/>
<rect x="302" y="187.5" width="4" height="3"/><rect x="310" y="196.5" width="4" height="3"/><rect x="314" y="205.5" width="5" height="3"/><rect x="319" y="214.5" width="4" height="3"/>
<rect x="323" y="232.5" width="4" height="3"/><rect x="329" y="241.5" width="6" height="3"/><rect x="340" y="250.5" width="4" height="3"/><rect x="345" y="258.5" width="4" height="3"/>
<rect x="349" y="281.5" width="4" height="3"/><rect x="353" y="290.5" width="5" height="3"/><rect x="357" y="299.5" width="13" height="3"/><rect x="370" y="308.5" width="4" height="3"/><rect x="373" y="318.5" width="5" height="3"/><rect x="377" y="327.5" width="4" height="3"/><rect x="382" y="336.5" width="4" height="3"/><rect x="387" y="345.5" width="10" height="3"/><rect x="395" y="355.5" width="5" height="3"/>
<rect x="401" y="372.5" width="5" height="3"/><rect x="401" y="381.5" width="5" height="3"/><rect x="401" y="390.5" width="5" height="3"/><rect x="401" y="399.5" width="5" height="3"/>
<rect x="406" y="409" width="29" height="4"/>
<rect x="434" y="443.5" width="5" height="3"/><rect x="434" y="451.5" width="5" height="3"/><rect x="434" y="459.5" width="5" height="3"/><rect x="434" y="468.5" width="5" height="3"/><rect x="434" y="476.5" width="5" height="3"/><rect x="434" y="485.5" width="5" height="3"/><rect x="434" y="493.5" width="5" height="3"/>
<rect x="434" y="512.5" width="5" height="3"/><rect x="442" y="521.5" width="5" height="3"/><rect x="448" y="529.5" width="15" height="3"/><rect x="459" y="538.5" width="4" height="3"/><rect x="464" y="546.5" width="4" height="3"/><rect x="467" y="555.5" width="4" height="3"/><rect x="472" y="563.5" width="10" height="3"/><rect x="482" y="572.5" width="5" height="3"/><rect x="488" y="581.5" width="4" height="3"/><rect x="492" y="589.5" width="5" height="3"/>
<rect x="495" y="606.5" width="5" height="3"/><rect x="500" y="615.5" width="4" height="3"/><rect x="512" y="624.5" width="4" height="3"/><rect x="516" y="632.5" width="4" height="3"/><rect x="520" y="641.5" width="5" height="3"/><rect x="525" y="649.5" width="4" height="3"/><rect x="530" y="657.5" width="10" height="3"/><rect x="540" y="666.5" width="5" height="3"/><rect x="545" y="675.5" width="4" height="3"/><rect x="550" y="683.5" width="4" height="3"/><rect x="555" y="692.5" width="4" height="3"/><rect x="565" y="701.5" width="5" height="3"/>
<rect x="570" y="718.5" width="4" height="3"/><rect x="575" y="726.5" width="5" height="3"/><rect x="579" y="734.5" width="4" height="3"/><rect x="583" y="743.5" width="4" height="3"/><rect x="588" y="751.5" width="5" height="3"/><rect x="598" y="760.5" width="5" height="3"/>
<rect x="603" y="778.5" width="30" height="3"/><rect x="633" y="787.5" width="30" height="3"/><rect x="663" y="795.5" width="27" height="3"/>
<rect x="290" y="812.5" width="10" height="3"/><rect x="299" y="820.5" width="16" height="3"/><rect x="327" y="838.5" width="29" height="3"/>
<rect x="550" y="855.5" width="13" height="3"/><rect x="570" y="872.5" width="13" height="3"/><rect x="583" y="881.5" width="14" height="3"/><rect x="597" y="889.5" width="9" height="3"/><rect x="616" y="898.5" width="22" height="3"/><rect x="637" y="906.5" width="6" height="3"/><rect x="644" y="914.5" width="11" height="3"/><rect x="661" y="923.5" width="3" height="3"/><rect x="663" y="931.5" width="4" height="3"/><rect x="670" y="940.5" width="20" height="3"/><rect x="700" y="948.5" width="23" height="3"/>
</g>
</g>

<!-- gantt labels -->
<g class="g">
<text x="300" y="85.5" class="g e">22/03</text><text x="388" y="85.5" class="g">10/04</text><text x="337" y="80.5" class="g c">13 days</text>
<text x="300" y="93.5" class="g e">22/03</text><text x="308" y="93.5" class="g">22/03</text><text x="304" y="89" class="g c">1 day</text>
<text x="300" y="102.5" class="g e">22/03</text><text x="308" y="102.5" class="g">22/03</text><text x="304" y="98" class="g c">1 day</text>
<text x="300" y="111.5" class="g e">22/03</text><text x="376" y="111.5" class="g">07/04</text><text x="337" y="107" class="g c">12 days</text>
<text x="300" y="127.5" class="g e">22/03</text><text x="325" y="125.5" class="g">26/03</text><text x="312" y="122" class="g c">4 days</text>
<text x="321" y="135.5" class="g e">27/03</text><text x="350" y="133.5" class="g">01/04</text><text x="335" y="130" class="g c">4 days</text>
<text x="346" y="144.5" class="g e">02/04</text><text x="375" y="143.5" class="g">07/04</text><text x="360" y="139" class="g c">4 days</text>
<text x="349" y="154.5" class="g e">03/04</text><text x="358" y="154.5" class="g">03/04</text><text x="353" y="149" class="g c">1 day</text>
<text x="300" y="164.5" class="g e">22/03</text><text x="693" y="164.5" class="g">25/06</text><text x="496" y="159" class="g c">67 days</text>
<text x="300" y="172.5" class="g e">22/03</text><text x="409" y="172.5" class="g">11/04</text><text x="354" y="168" class="g c">14 days</text>
<text x="300" y="180.5" class="g e">22/03</text><text x="326" y="178.5" class="g">26/03</text><text x="312" y="176" class="g c">4 days</text>
<text x="300" y="190.5" class="g e">22/03</text><text x="308" y="188.5" class="g">22/03</text>
<text x="308" y="199.5" class="g e">24/03</text><text x="316" y="197.5" class="g">24/03</text>
<text x="312" y="208.5" class="g e">25/03</text><text x="321" y="206.5" class="g">25/03</text>
<text x="317" y="217.5" class="g e">26/03</text><text x="325" y="215.5" class="g">26/03</text>
<text x="321" y="225.5" class="g e">27/03</text><text x="351" y="225.5" class="g">01/04</text><text x="336" y="221" class="g c">4 days</text>
<text x="321" y="235.5" class="g e">27/03</text><text x="329" y="233.5" class="g">27/03</text><text x="325" y="230" class="g c">1 day</text>
<text x="327" y="244.5" class="g e">28/03</text><text x="337" y="242.5" class="g">28/03</text>
<text x="338" y="253.5" class="g e">31/03</text><text x="346" y="251.5" class="g">31/03</text>
<text x="343" y="261.5" class="g e">01/04</text><text x="351" y="259.5" class="g">01/04</text>
<text x="347" y="271.5" class="g e">02/04</text><text x="385" y="271.5" class="g">09/04</text><text x="366" y="267" class="g c">6 days</text>
<text x="347" y="284.5" class="g e">02/04</text><text x="355" y="282.5" class="g">02/04</text><text x="351" y="279" class="g c">1 day</text>
<text x="351" y="293.5" class="g e">03/04</text><text x="360" y="291.5" class="g">03/04</text>
<text x="355" y="302.5" class="g e">04/04</text><text x="372" y="300.5" class="g">04/04</text>
<text x="368" y="311.5" class="g e">07/04</text><text x="376" y="309.5" class="g">07/04</text>
<text x="371" y="321.5" class="g e">08/04</text><text x="380" y="319.5" class="g">08/04</text>
<text x="375" y="330.5" class="g e">09/04</text><text x="383" y="328.5" class="g">09/04</text>
<text x="380" y="339.5" class="g e">09/04</text><text x="388" y="337.5" class="g">09/04</text>
<text x="385" y="348.5" class="g e">10/04</text><text x="399" y="346.5" class="g">10/04</text>
<text x="393" y="358.5" class="g e">11/04</text><text x="402" y="356.5" class="g">11/04</text>
<text x="399" y="365.5" class="g e">14/04</text><text x="409" y="365.5" class="g">14/04</text>
<text x="399" y="375.5" class="g e">15/04</text><text x="409" y="375.5" class="g">15/04</text>
<text x="399" y="384.5" class="g e">15/04</text><text x="409" y="384.5" class="g">15/04</text>
<text x="399" y="393.5" class="g e">15/04</text><text x="409" y="393.5" class="g">15/04</text>
<text x="399" y="402.5" class="g e">15/04</text><text x="409" y="402.5" class="g">15/04</text>
<text x="404" y="412.5" class="g e">16/04</text><text x="438" y="410.5" class="g">22/04</text><text x="420" y="407" class="g c">5 days</text>
<text x="433" y="420.5" class="g e">23/04</text><text x="690" y="417" class="g c">66 days</text>
<text x="433" y="429.5" class="g e">23/04</text><text x="558" y="429.5" class="g">06/06</text><text x="520" y="425" class="g c">29 days</text>
<text x="432" y="436.5" class="g e">23/04</text><text x="442" y="436.5" class="g">23/04</text>
<text x="432" y="446.5" class="g e">23/04</text><text x="442" y="446.5" class="g">23/04</text>
<text x="432" y="454.5" class="g e">23/04</text><text x="442" y="454.5" class="g">23/04</text>
<text x="432" y="462.5" class="g e">23/04</text><text x="442" y="462.5" class="g">23/04</text>
<text x="432" y="471.5" class="g e">23/04</text><text x="442" y="471.5" class="g">23/04</text>
<text x="432" y="479.5" class="g e">23/04</text><text x="442" y="479.5" class="g">23/04</text>
<text x="432" y="488.5" class="g e">23/04</text><text x="442" y="488.5" class="g">23/04</text>
<text x="432" y="496.5" class="g e">23/04</text><text x="442" y="496.5" class="g">23/04</text>
<text x="437" y="506.5" class="g e">24/04</text><text x="500" y="506.5" class="g">07/05</text><text x="468" y="502" class="g c">10 days</text>
<text x="432" y="515.5" class="g e">24/04</text><text x="441" y="513.5" class="g">24/04</text>
<text x="440" y="524.5" class="g e">25/04</text><text x="449" y="522.5" class="g">25/04</text>
<text x="446" y="532.5" class="g e">28/04</text><text x="465" y="530.5" class="g">28/04</text>
<text x="457" y="541.5" class="g e">29/04</text><text x="465" y="539.5" class="g">29/04</text>
<text x="462" y="549.5" class="g e">30/04</text><text x="470" y="547.5" class="g">30/04</text>
<text x="465" y="558.5" class="g e">01/05</text><text x="473" y="556.5" class="g">01/05</text>
<text x="470" y="566.5" class="g e">02/05</text><text x="484" y="564.5" class="g">02/05</text>
<text x="480" y="575.5" class="g e">05/05</text><text x="489" y="573.5" class="g">05/05</text>
<text x="486" y="584.5" class="g e">06/05</text><text x="494" y="582.5" class="g">06/05</text>
<text x="490" y="592.5" class="g e">07/05</text><text x="499" y="590.5" class="g">07/05</text>
<text x="495" y="601.5" class="g e">08/05</text><text x="549" y="601.5" class="g">19/05</text><text x="521" y="597" class="g c">6 days</text>
<text x="493" y="609.5" class="g e">08/05</text><text x="502" y="607.5" class="g">08/05</text>
<text x="498" y="618.5" class="g e">09/05</text><text x="506" y="616.5" class="g">09/05</text>
<text x="510" y="627.5" class="g e">12/05</text><text x="518" y="625.5" class="g">12/05</text>
<text x="514" y="635.5" class="g e">13/05</text><text x="522" y="633.5" class="g">13/05</text>
<text x="518" y="644.5" class="g e">14/05</text><text x="527" y="642.5" class="g">14/05</text>
<text x="523" y="652.5" class="g e">15/05</text><text x="531" y="650.5" class="g">15/05</text>
<text x="528" y="660.5" class="g e">16/05</text><text x="542" y="658.5" class="g">16/05</text>
<text x="538" y="669.5" class="g e">19/05</text><text x="547" y="667.5" class="g">19/05</text>
<text x="543" y="678.5" class="g e">20/05</text><text x="551" y="676.5" class="g">20/05</text>
<text x="548" y="686.5" class="g e">21/05</text><text x="556" y="684.5" class="g">21/05</text>
<text x="553" y="695.5" class="g e">22/05</text><text x="561" y="693.5" class="g">22/05</text>
<text x="563" y="704.5" class="g e">23/05</text><text x="572" y="702.5" class="g">23/05</text>
<text x="568" y="712.5" class="g e">26/05</text><text x="591" y="712.5" class="g">29/05</text><text x="579" y="708" class="g c">4 days</text>
<text x="568" y="721.5" class="g e">26/05</text><text x="576" y="719.5" class="g">26/05</text>
<text x="573" y="729.5" class="g e">27/05</text><text x="582" y="727.5" class="g">27/05</text>
<text x="577" y="737.5" class="g e">28/05</text><text x="585" y="735.5" class="g">28/05</text>
<text x="581" y="746.5" class="g e">29/05</text><text x="589" y="744.5" class="g">29/05</text>
<text x="586" y="754.5" class="g e">30/05</text><text x="595" y="752.5" class="g">30/05</text>
<text x="596" y="763.5" class="g e">02/06</text><text x="605" y="761.5" class="g">02/06</text>
<text x="601" y="772.5" class="g e">03/06</text><text x="693" y="772.5" class="g">23/06</text><text x="646" y="767" class="g c">15 days</text>
<text x="601" y="781.5" class="g e">03/06</text><text x="635" y="779.5" class="g">09/06</text><text x="618" y="776" class="g c">7 days</text>
<text x="631" y="790.5" class="g e">10/06</text><text x="665" y="788.5" class="g">16/06</text><text x="648" y="785" class="g c">7 days</text>
<text x="661" y="798.5" class="g e">17/06</text><text x="692" y="798.5" class="g">23/06</text><text x="676" y="793" class="g c">5 days</text>
<text x="288" y="806.5" class="g e">19/03</text><text x="318" y="806.5" class="g">24/03</text><text x="302" y="802" class="g c">5 days</text>
<text x="288" y="815.5" class="g e">19/03</text><text x="302" y="813.5" class="g">20/03</text><text x="295" y="811" class="g c">2 days</text>
<text x="297" y="823.5" class="g e">21/03</text><text x="317" y="823.5" class="g">24/03</text><text x="307" y="819" class="g c">3 days</text>
<text x="325" y="833.5" class="g e">28/03</text><text x="359" y="833.5" class="g">03/04</text><text x="341" y="828" class="g c">5 days</text>
<text x="325" y="841.5" class="g e">28/03</text><text x="359" y="841.5" class="g">03/04</text><text x="341" y="836.5" class="g c">5 days</text>
<text x="548" y="849.5" class="g e">21/05</text><text x="726" y="849.5" class="g">01/07</text><text x="636" y="844" class="g c">30 days</text>
<text x="548" y="858.5" class="g e">21/05</text><text x="565" y="856.5" class="g">23/05</text><text x="556" y="853" class="g c">3 days</text>
<text x="568" y="866.5" class="g e">26/05</text><text x="641" y="866.5" class="g">10/06</text><text x="604" y="862" class="g c">12 days</text>
<text x="568" y="875.5" class="g e">26/05</text><text x="585" y="873.5" class="g">28/05</text><text x="576" y="870" class="g c">3 days</text>
<text x="581" y="884.5" class="g e">29/05</text><text x="599" y="882.5" class="g">02/06</text><text x="590" y="879" class="g c">3 days</text>
<text x="595" y="892.5" class="g e">03/06</text><text x="608" y="890.5" class="g">04/06</text><text x="601" y="887" class="g c">2 days</text>
<text x="614" y="901.5" class="g e">05/06</text><text x="641" y="899.5" class="g">10/06</text><text x="627" y="896" class="g c">5 days</text>
<text x="635" y="909.5" class="g e">11/06</text><text x="645" y="907.5" class="g">12/06</text>
<text x="642" y="917.5" class="g e">13/06</text><text x="657" y="915.5" class="g">16/06</text><text x="650" y="912" class="g c">2 days</text>
<text x="659" y="926.5" class="g e">17/06</text><text x="666" y="924.5" class="g">17/06</text>
<text x="661" y="934.5" class="g e">18/06</text><text x="669" y="932.5" class="g">18/06</text>
<text x="668" y="943.5" class="g e">19/06</text><text x="692" y="941.5" class="g">25/06</text><text x="680" y="938" class="g c">5 days</text>
<text x="698" y="951.5" class="g e">26/06</text><text x="726" y="951.5" class="g">01/07</text><text x="711" y="946" class="g c">4 days</text>
</g>
</svg>
</body></html>
